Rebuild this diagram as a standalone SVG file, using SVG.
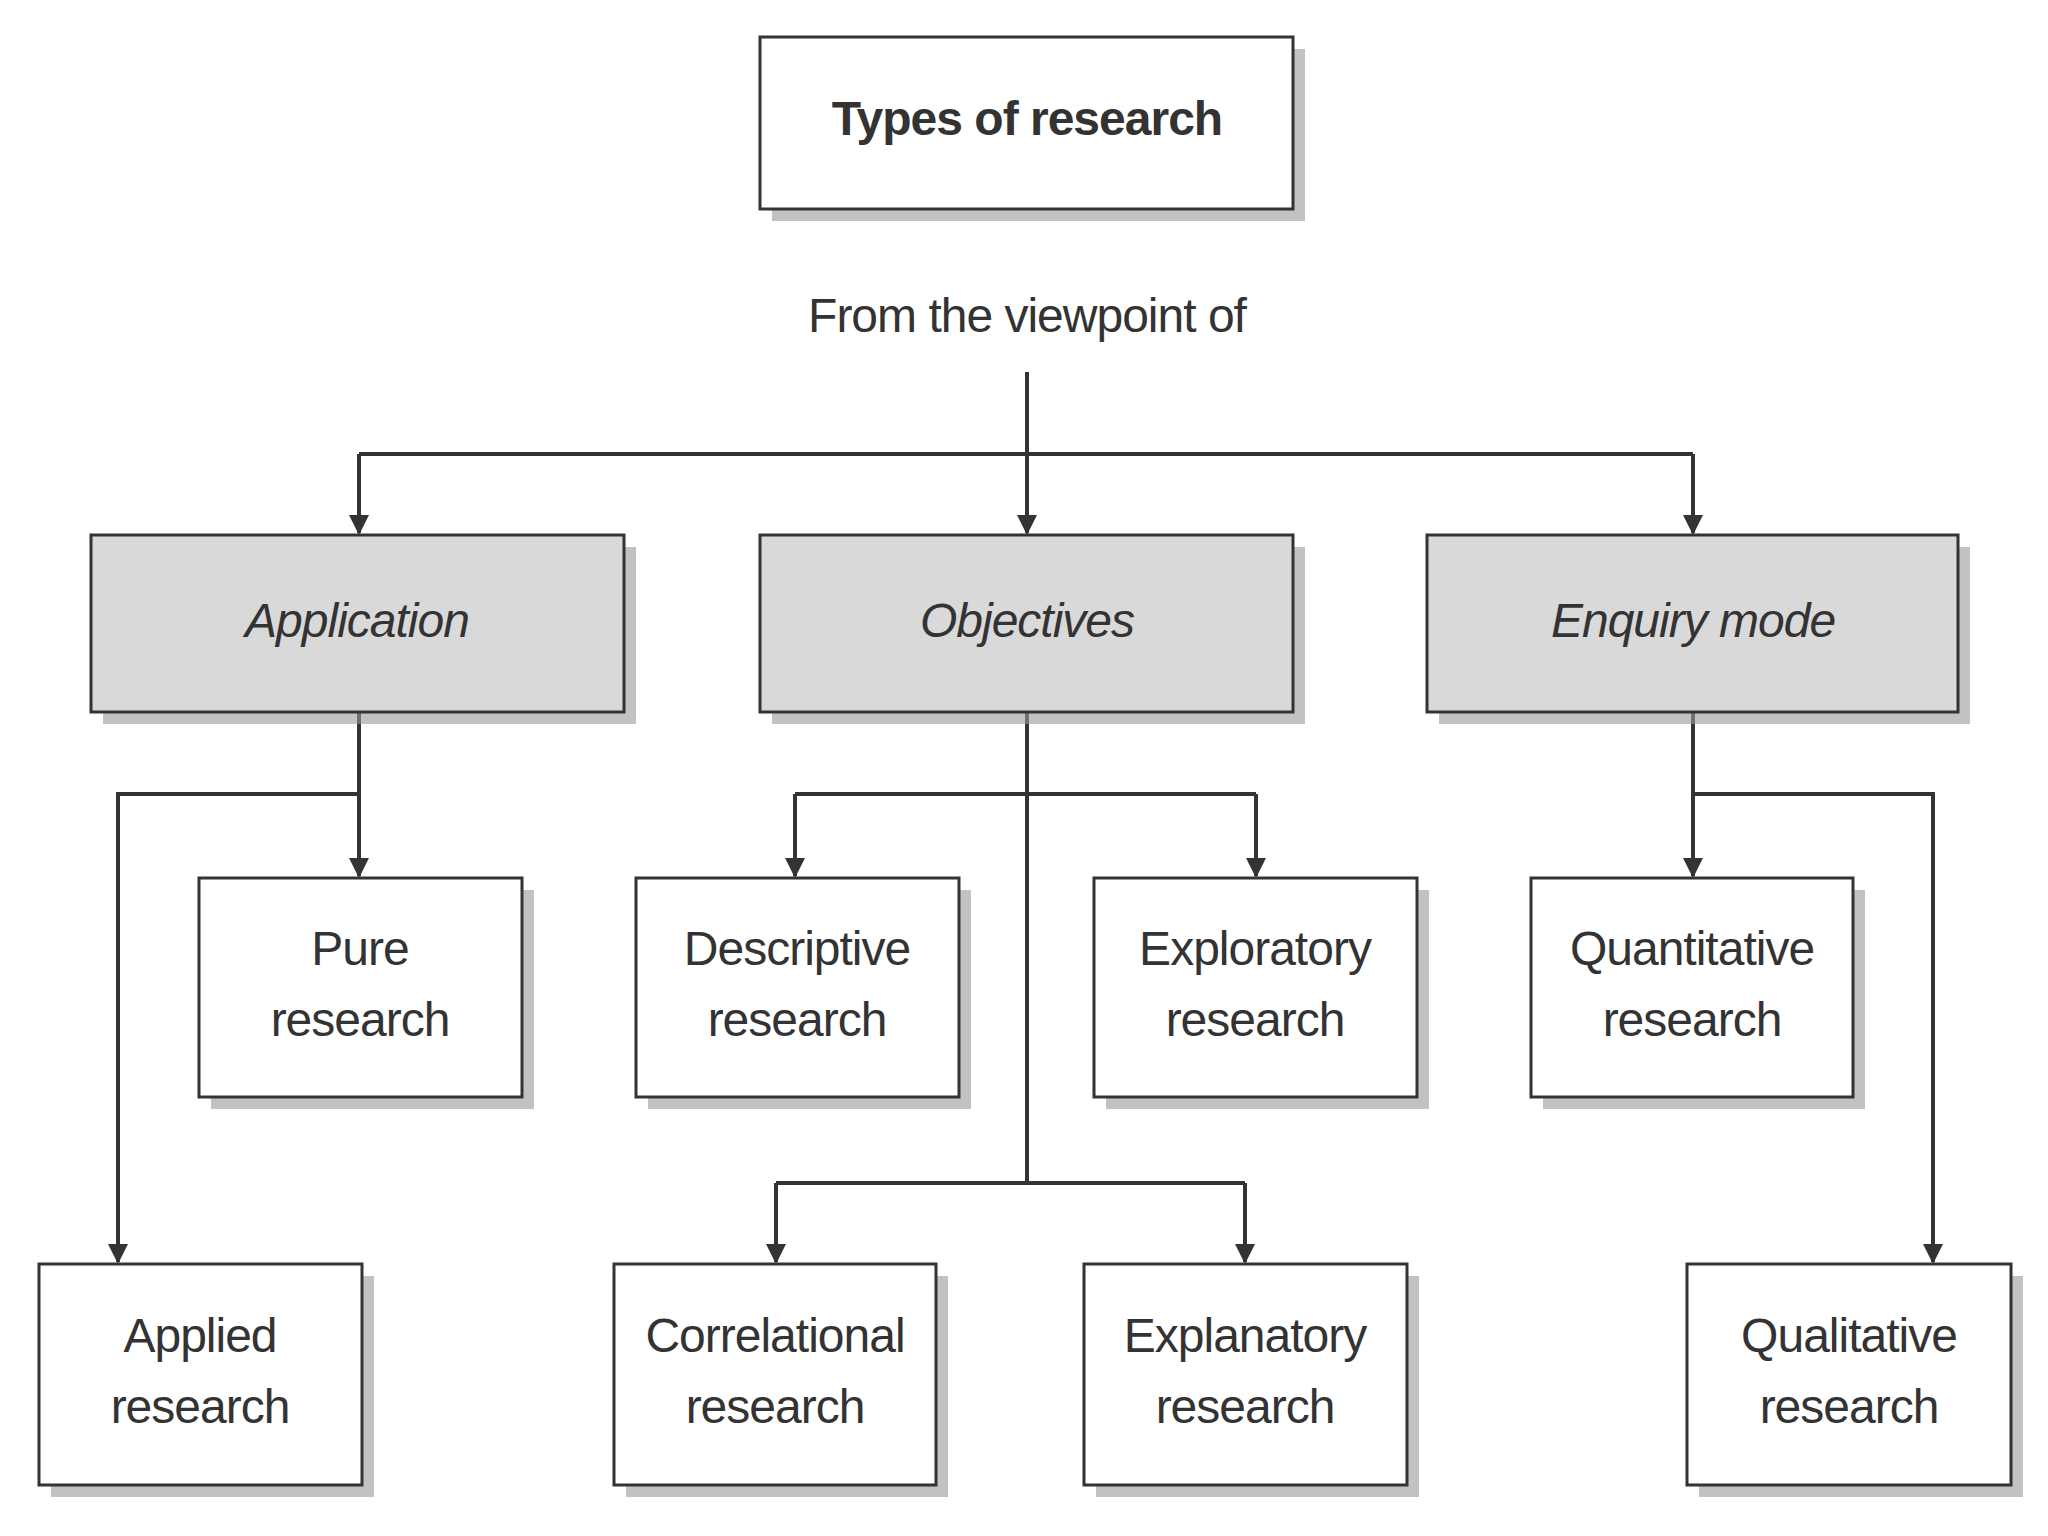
<svg xmlns="http://www.w3.org/2000/svg" width="2048" height="1536" viewBox="0 0 2048 1536">
<defs>
<style>
.b{fill:#fff;stroke:#333;stroke-width:3}
.g{fill:#d9d9d9;stroke:#333;stroke-width:3}
.s{fill:#999;opacity:0.6}
.t{font-family:"Liberation Sans",Arial,sans-serif;font-size:48px;fill:#333;text-anchor:middle;letter-spacing:-1px}
.i{font-style:italic}
.c{fill:none;stroke:#333;stroke-width:4}
</style>
<marker id="a" viewBox="0 0 10 10" refX="9" refY="5" markerWidth="5" markerHeight="5" orient="auto"><path d="M0,0L10,5L0,10z" fill="#333"/></marker>
</defs>
<rect width="2048" height="1536" fill="#fff"/>
<g id="connectors" class="c">
<path d="M1027,372V533" marker-end="url(#a)"/>
<path d="M359,454H1693"/>
<path d="M359,454V533" marker-end="url(#a)"/>
<path d="M1693,454V533" marker-end="url(#a)"/>
<path d="M359,712V876" marker-end="url(#a)"/>
<path d="M359,794H118V1262" marker-end="url(#a)"/>
<path d="M1027,712V1183"/>
<path d="M795,794H1256"/>
<path d="M795,794V876" marker-end="url(#a)"/>
<path d="M1256,794V876" marker-end="url(#a)"/>
<path d="M776,1183H1245"/>
<path d="M776,1183V1262" marker-end="url(#a)"/>
<path d="M1245,1183V1262" marker-end="url(#a)"/>
<path d="M1693,712V876" marker-end="url(#a)"/>
<path d="M1693,794H1933V1262" marker-end="url(#a)"/>
</g>
<g id="top"><rect class="s" x="772" y="49" width="533" height="172"/><rect class="b" x="760" y="37" width="533" height="172"/><text class="t" x="1027" y="135" font-weight="bold">Types of research</text></g>
<text id="label" class="t" x="1027" y="332">From the viewpoint of</text>
<g id="application"><rect class="s" x="103" y="547" width="533" height="177"/><rect class="g" x="91" y="535" width="533" height="177"/><text class="t i" x="357" y="637">Application</text></g>
<g id="objectives"><rect class="s" x="772" y="547" width="533" height="177"/><rect class="g" x="760" y="535" width="533" height="177"/><text class="t i" x="1027" y="637">Objectives</text></g>
<g id="enquiry"><rect class="s" x="1439" y="547" width="531" height="177"/><rect class="g" x="1427" y="535" width="531" height="177"/><text class="t i" x="1693" y="637">Enquiry mode</text></g>
<g id="pure"><rect class="s" x="211" y="890" width="323" height="219"/><rect class="b" x="199" y="878" width="323" height="219"/><text class="t" x="360" y="965">Pure</text><text class="t" x="360" y="1036">research</text></g>
<g id="descriptive"><rect class="s" x="648" y="890" width="323" height="219"/><rect class="b" x="636" y="878" width="323" height="219"/><text class="t" x="797" y="965">Descriptive</text><text class="t" x="797" y="1036">research</text></g>
<g id="exploratory"><rect class="s" x="1106" y="890" width="323" height="219"/><rect class="b" x="1094" y="878" width="323" height="219"/><text class="t" x="1255" y="965">Exploratory</text><text class="t" x="1255" y="1036">research</text></g>
<g id="quantitative"><rect class="s" x="1543" y="890" width="322" height="219"/><rect class="b" x="1531" y="878" width="322" height="219"/><text class="t" x="1692" y="965">Quantitative</text><text class="t" x="1692" y="1036">research</text></g>
<g id="applied"><rect class="s" x="51" y="1276" width="323" height="221"/><rect class="b" x="39" y="1264" width="323" height="221"/><text class="t" x="200" y="1352">Applied</text><text class="t" x="200" y="1423">research</text></g>
<g id="correlational"><rect class="s" x="626" y="1276" width="322" height="221"/><rect class="b" x="614" y="1264" width="322" height="221"/><text class="t" x="775" y="1352">Correlational</text><text class="t" x="775" y="1423">research</text></g>
<g id="explanatory"><rect class="s" x="1096" y="1276" width="323" height="221"/><rect class="b" x="1084" y="1264" width="323" height="221"/><text class="t" x="1245" y="1352">Explanatory</text><text class="t" x="1245" y="1423">research</text></g>
<g id="qualitative"><rect class="s" x="1699" y="1276" width="324" height="221"/><rect class="b" x="1687" y="1264" width="324" height="221"/><text class="t" x="1849" y="1352">Qualitative</text><text class="t" x="1849" y="1423">research</text></g>
</svg>
